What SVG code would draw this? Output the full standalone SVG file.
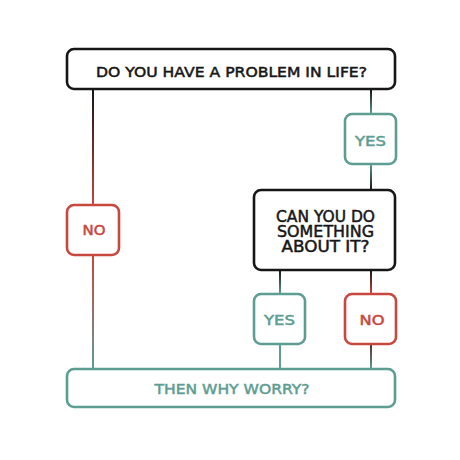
<svg xmlns="http://www.w3.org/2000/svg" width="460" height="460" viewBox="0 0 460 460">
<style>
.box{fill:#fff;stroke-width:2.6}
.k{stroke:#161616}
.r{stroke:#c8473e}
.g{stroke:#5e9d92}
.t{font-family:"DejaVu Sans","Liberation Sans",sans-serif;font-weight:normal;font-size:14px;text-anchor:middle;stroke-width:0.5}
.tk{fill:#161616;stroke:#161616}
.tr{fill:#c8473e;stroke:#c8473e}
.tg{fill:#5e9d92;stroke:#5e9d92}
.big{font-size:16px}
.ln{stroke-width:2;fill:none}
</style>
<defs>
<linearGradient id="gKR1" gradientUnits="userSpaceOnUse" x1="0" y1="90" x2="0" y2="205"><stop offset="0" stop-color="#161616"/><stop offset="1" stop-color="#c8473e"/></linearGradient>
<linearGradient id="gRG1" gradientUnits="userSpaceOnUse" x1="0" y1="255" x2="0" y2="369"><stop offset="0" stop-color="#c8473e"/><stop offset="1" stop-color="#5e9d92"/></linearGradient>
<linearGradient id="gKG1" gradientUnits="userSpaceOnUse" x1="0" y1="90" x2="0" y2="114"><stop offset="0" stop-color="#161616"/><stop offset="1" stop-color="#5e9d92"/></linearGradient>
<linearGradient id="gGK1" gradientUnits="userSpaceOnUse" x1="0" y1="164" x2="0" y2="190"><stop offset="0" stop-color="#5e9d92"/><stop offset="1" stop-color="#161616"/></linearGradient>
<linearGradient id="gKG2" gradientUnits="userSpaceOnUse" x1="0" y1="270" x2="0" y2="294"><stop offset="0" stop-color="#161616"/><stop offset="1" stop-color="#5e9d92"/></linearGradient>
<linearGradient id="gKR2" gradientUnits="userSpaceOnUse" x1="0" y1="270" x2="0" y2="294"><stop offset="0" stop-color="#161616"/><stop offset="1" stop-color="#c8473e"/></linearGradient>
<linearGradient id="gRG2" gradientUnits="userSpaceOnUse" x1="0" y1="344" x2="0" y2="369"><stop offset="0" stop-color="#5a2a2a"/><stop offset="1" stop-color="#5e9d92"/></linearGradient>
</defs>
<rect width="460" height="460" fill="#fff"/>
<g id="connectors">
<line class="ln" x1="93" y1="90" x2="93" y2="205" stroke="url(#gKR1)"/>
<line class="ln" x1="93" y1="255" x2="93" y2="369" stroke="url(#gRG1)"/>
<line class="ln" x1="371" y1="90" x2="371" y2="114" stroke="url(#gKG1)"/>
<line class="ln" x1="371" y1="164" x2="371" y2="190" stroke="url(#gGK1)"/>
<line class="ln" x1="280" y1="270" x2="280" y2="294" stroke="url(#gKG2)"/>
<line class="ln" x1="280" y1="344" x2="280" y2="369" stroke="#5e9d92"/>
<line class="ln" x1="371" y1="270" x2="371" y2="294" stroke="url(#gKR2)"/>
<line class="ln" x1="371" y1="344" x2="371" y2="369" stroke="url(#gRG2)"/>
</g>
<g id="q1">
<rect class="box k" x="67" y="49" width="328" height="40" rx="7"/>
<text class="t tk" x="231.5" y="77" textLength="271" lengthAdjust="spacingAndGlyphs">DO YOU HAVE A PROBLEM IN LIFE?</text>
</g>
<g id="no1">
<rect class="box r" x="67" y="205" width="52" height="50" rx="7"/>
<text class="t tr" x="94" y="235" textLength="23" lengthAdjust="spacingAndGlyphs">NO</text>
</g>
<g id="yes1">
<rect class="box g" x="345" y="114" width="51" height="50" rx="7"/>
<text class="t tg" x="370.5" y="146" textLength="31" lengthAdjust="spacingAndGlyphs">YES</text>
</g>
<g id="q2">
<rect class="box k" x="254" y="190" width="141" height="80" rx="7"/>
<text class="t tk big" x="325.5" y="222" textLength="99" lengthAdjust="spacingAndGlyphs">CAN YOU DO</text>
<text class="t tk big" x="325.5" y="237" textLength="97" lengthAdjust="spacingAndGlyphs">SOMETHING</text>
<text class="t tk big" x="325.5" y="252" textLength="88" lengthAdjust="spacingAndGlyphs">ABOUT IT?</text>
</g>
<g id="yes2">
<rect class="box g" x="254" y="294" width="51" height="50" rx="7"/>
<text class="t tg" x="279.5" y="325" textLength="31" lengthAdjust="spacingAndGlyphs">YES</text>
</g>
<g id="no2">
<rect class="box r" x="345" y="294" width="51" height="50" rx="7"/>
<text class="t tr" x="372" y="325" textLength="25" lengthAdjust="spacingAndGlyphs">NO</text>
</g>
<g id="end">
<rect class="box g" x="67" y="369" width="328" height="38" rx="7"/>
<text class="t tg" x="232" y="394" textLength="155" lengthAdjust="spacingAndGlyphs">THEN WHY WORRY?</text>
</g>
</svg>
